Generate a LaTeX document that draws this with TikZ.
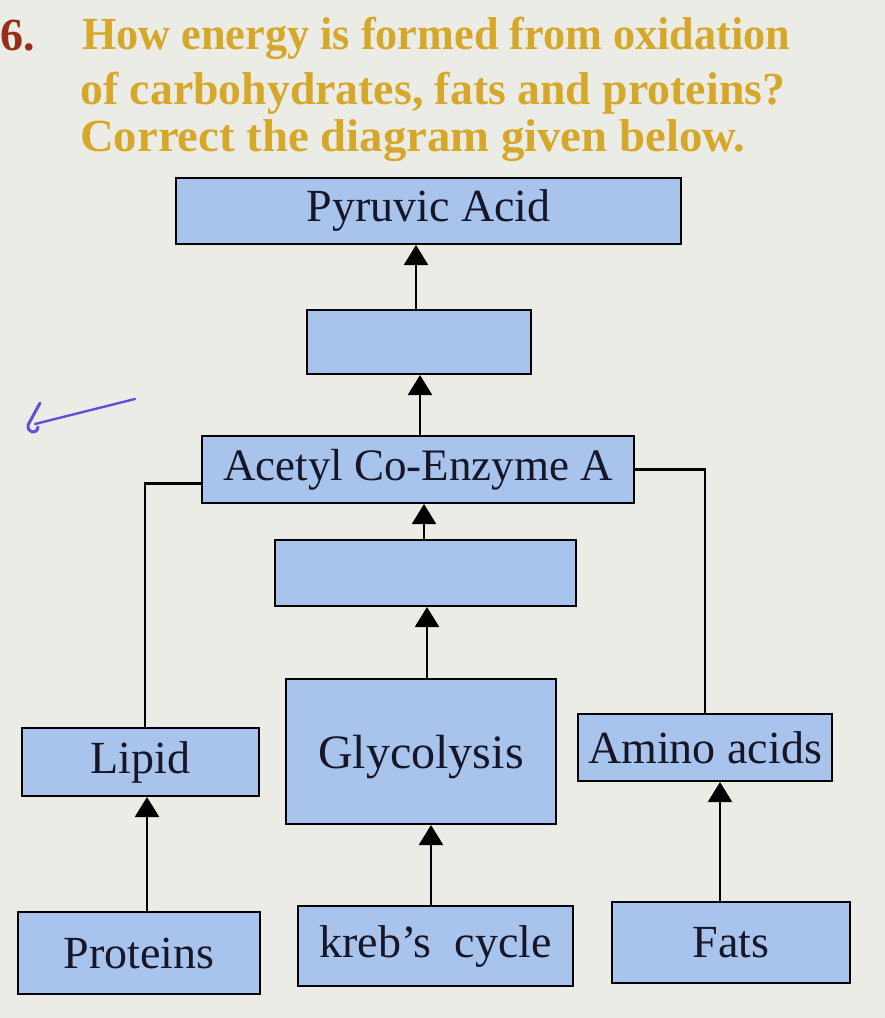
\documentclass[tikz,border=0pt]{standalone}
\usepackage{fontspec}
\usepackage{graphicx}
\setmainfont{Liberation Serif}
\usetikzlibrary{arrows.meta}
\definecolor{paper}{RGB}{236,236,231}
\definecolor{boxblue}{RGB}{168,196,236}
\definecolor{inkdark}{RGB}{22,22,40}
\definecolor{gold}{RGB}{214,168,42}
\definecolor{numred}{RGB}{150,45,25}
\definecolor{pen}{RGB}{95,80,215}
\tikzset{
  bluebox/.style={draw=black, line width=2pt, fill=boxblue, inner sep=0pt,
    text=inkdark, font=\fontsize{46}{52}\selectfont},
  arr/.style={line width=2.4pt, -{Triangle[width=24pt,length=20pt]}},
  link/.style={line width=2.2pt},
  headline/.style={anchor=base west, inner sep=0pt, text=gold,
    font=\fontsize{46}{50}\selectfont\bfseries},
}
\begin{document}
\begin{tikzpicture}[x=1pt,y=-1pt]
\fill[paper] (0,0) rectangle (885,1018);
\useasboundingbox (0,0) rectangle (885,1018);

% heading
\node[anchor=base west, inner sep=0pt, text=numred, font=\fontsize{46}{50}\selectfont\bfseries] (num) at (0,50) {6.};
\node[headline] (h1) at (82,49) {\resizebox{708pt}{\height}{How energy is formed from oxidation}};
\node[headline] (h2) at (80,104) {\resizebox{705pt}{\height}{of carbohydrates, fats and proteins?}};
\node[headline] (h3) at (80,151) {\resizebox{665pt}{\height}{Correct the diagram given below.}};

% boxes
\node[bluebox, minimum width=505pt, minimum height=66pt] (pyr) at (428.5,211) {Pyruvic Acid};
\node[bluebox, minimum width=224pt, minimum height=64pt] (b2) at (419,342) {};
\node[bluebox, minimum width=432pt, minimum height=67pt] (acet) at (418,469.5) {\fontsize{45}{50}\selectfont Acetyl Co-Enzyme A};
\node[bluebox, minimum width=301pt, minimum height=66pt] (b4) at (425.5,573) {};
\node[bluebox, minimum width=270pt, minimum height=145pt] (glyc) at (421,751.5) {};
\node[inner sep=0pt, text=inkdark, font=\fontsize{48}{52}\selectfont] (glyct) at (glyc.center) [yshift=-6pt] {Glycolysis};
\node[bluebox, minimum width=237pt, minimum height=68pt] (lipid) at (140.5,762) {Lipid};
\node[bluebox, minimum width=254pt, minimum height=67pt] (amino) at (705,747.5) {Amino acids};
\node[bluebox, minimum width=242pt, minimum height=82pt] (prot) at (139,953) {Proteins};
\node[bluebox, minimum width=275pt, minimum height=80pt] (kreb) at (435.5,946) {kreb's\ \ cycle};
\node[bluebox, minimum width=238pt, minimum height=81pt] (fats) at (731,942.5) {Fats};

% arrows
\draw[arr] (prot.north -| 147,0) -- (lipid.south -| 147,0);
\draw[arr] (kreb.north -| 431,0) -- (glyc.south -| 431,0);
\draw[arr] (fats.north -| 720,0) -- (amino.south -| 720,0);
\draw[arr] (glyc.north -| 427,0) -- (b4.south -| 427,0);
\draw[arr] (b4.north -| 424,0) -- (acet.south -| 424,0);
\draw[arr] (acet.north -| 420,0) -- (b2.south -| 420,0);
\draw[arr] (b2.north -| 416,0) -- (pyr.south -| 416,0);

% side links
\draw[link] (lipid.north -| 145,0) |- ([yshift=-14pt]acet.west);
\draw[link] (amino.north) |- (acet.east);

% pen mark
\draw[pen, line width=3pt, line cap=round, line join=round]
  (40,403) -- (28,425) .. controls (27,433) and (37,435) .. (38,427);
\draw[pen, line width=2.4pt, line cap=round] (35,424) -- (135,399);
\end{tikzpicture}
\end{document}
